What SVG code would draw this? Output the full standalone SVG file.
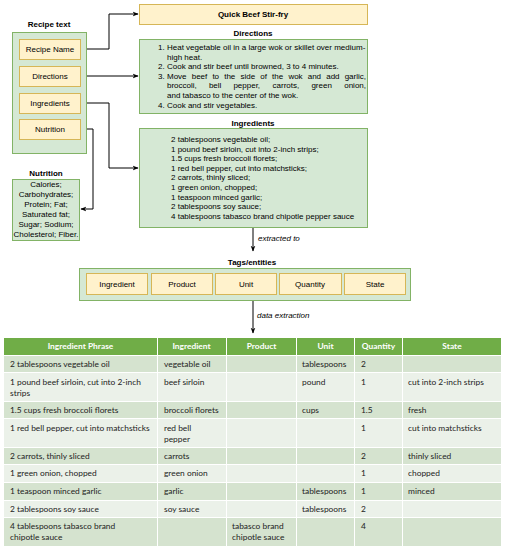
<svg xmlns="http://www.w3.org/2000/svg" width="505" height="550" viewBox="0 0 505 550">
<style>
.g{fill:#d5e8d4;stroke:#82b366;stroke-width:1}
.y{fill:#fff2cc;stroke:#d6b656;stroke-width:1}
.t{font-family:"Liberation Sans",Arial,sans-serif;font-size:8px;fill:#000}
.b{font-weight:bold}
.c{text-anchor:middle}
.e{text-anchor:end}
.i{font-style:italic}
.tb{font-family:Lato,"Liberation Sans",sans-serif;font-size:8.4px;fill:#222}
.th{font-family:Lato,"Liberation Sans",sans-serif;font-size:8.4px;fill:#fff;font-weight:bold;text-anchor:middle}
.h{fill:#70ad47}
.d{fill:#d5e3cf}
.l{fill:#ebf1e9}
.conn{fill:none;stroke:#000;stroke-width:1}
</style>
<defs>
<marker id="arr" viewBox="0 0 10 10" refX="9" refY="5" markerWidth="6" markerHeight="6" orient="auto" markerUnits="userSpaceOnUse">
<path d="M0,1 L10,5 L0,9 L3,5 Z" fill="#000"/>
</marker>
</defs>
<rect width="505" height="550" fill="#fff"/>

<g id="recipe-text">
<text class="t b c" x="49" y="27">Recipe text</text>
<rect class="g" x="12.5" y="32.5" width="74" height="121"/>
</g>
<g id="recipe-name">
<rect class="y" x="19.5" y="39.5" width="61" height="20"/>
<text class="t c" x="50" y="52">Recipe Name</text>
</g>
<g id="directions-tag">
<rect class="y" x="19.5" y="66.5" width="61" height="20"/>
<text class="t c" x="50" y="79">Directions</text>
</g>
<g id="ingredients-tag">
<rect class="y" x="19.5" y="93.5" width="61" height="20"/>
<text class="t c" x="50" y="106">Ingredients</text>
</g>
<g id="nutrition-tag">
<rect class="y" x="19.5" y="119.5" width="61" height="20"/>
<text class="t c" x="50" y="132">Nutrition</text>
</g>

<g id="nutrition">
<text class="t b c" x="46" y="176">Nutrition</text>
<rect class="g" x="12.5" y="179.5" width="67" height="61"/>
<text class="t c" x="46" y="187">Calories;</text>
<text class="t c" x="46" y="197">Carbohydrates;</text>
<text class="t c" x="46" y="207">Protein; Fat;</text>
<text class="t c" x="46" y="217">Saturated fat;</text>
<text class="t c" x="46" y="227">Sugar; Sodium;</text>
<text class="t c" x="46" y="237">Cholesterol; Fiber.</text>
</g>

<g id="title">
<rect class="y" x="139.5" y="4.5" width="228" height="20"/>
<text class="t b c" x="253" y="17">Quick Beef Stir-fry</text>
</g>

<g id="directions">
<text class="t b c" x="253" y="36">Directions</text>
<rect class="g" x="139.5" y="39.5" width="228" height="74"/>
<text class="t" y="50"><tspan x="158">1.</tspan><tspan x="167">Heat vegetable oil in a large wok or skillet over medium-</tspan></text>
<text class="t" x="167" y="59.6">high heat.</text>
<text class="t" y="69.2"><tspan x="158">2.</tspan><tspan x="167">Cook and stir beef until browned, 3 to 4 minutes.</tspan></text>
<text class="t" y="78.8"><tspan x="158">3.</tspan><tspan x="167">Move</tspan><tspan x="191.7">beef</tspan><tspan x="212.4">to</tspan><tspan x="224.2">the</tspan><tspan x="240.5">side</tspan><tspan x="260.3">of</tspan><tspan x="272.1">the</tspan><tspan x="288.4">wok</tspan><tspan x="307.7">and</tspan><tspan x="326.2">add</tspan></text>
<text class="t e" x="366" y="78.8">garlic,</text>
<text class="t" y="88.4"><tspan x="167">broccoli,</tspan><tspan x="208.9">bell</tspan><tspan x="233.4">pepper,</tspan><tspan x="272.6">carrots,</tspan><tspan x="311.4">green</tspan></text>
<text class="t e" x="366" y="88.4">onion,</text>
<text class="t" x="167" y="98">and tabasco to the center of the wok.</text>
<text class="t" y="107.6"><tspan x="158">4.</tspan><tspan x="167">Cook and stir vegetables.</tspan></text>
</g>

<g id="ingredients">
<text class="t b c" x="253" y="126">Ingredients</text>
<rect class="g" x="139.5" y="128.5" width="228" height="99"/>
<text class="t" x="171" y="142">2 tablespoons vegetable oil;</text>
<text class="t" x="171" y="151.6">1 pound beef sirloin, cut into 2-inch strips;</text>
<text class="t" x="171" y="161.2">1.5 cups fresh broccoli florets;</text>
<text class="t" x="171" y="170.8">1 red bell pepper, cut into matchsticks;</text>
<text class="t" x="171" y="180.4">2 carrots, thinly sliced;</text>
<text class="t" x="171" y="190">1 green onion, chopped;</text>
<text class="t" x="171" y="199.6">1 teaspoon minced garlic;</text>
<text class="t" x="171" y="209.2">2 tablespoons soy sauce;</text>
<text class="t" x="171" y="218.8">4 tablespoons tabasco brand chipotle pepper sauce</text>
</g>

<g id="tags">
<text class="t b c" x="252" y="265">Tags/entities</text>
<rect class="g" x="79.5" y="268.5" width="331" height="32"/>
</g>
<g id="tag-ingredient"><rect class="y" x="86.5" y="273.5" width="61" height="21"/><text class="t c" x="117" y="287">Ingredient</text></g>
<g id="tag-product"><rect class="y" x="151.5" y="273.5" width="61" height="21"/><text class="t c" x="182" y="287">Product</text></g>
<g id="tag-unit"><rect class="y" x="215.5" y="273.5" width="61" height="21"/><text class="t c" x="246" y="287">Unit</text></g>
<g id="tag-quantity"><rect class="y" x="279.5" y="273.5" width="62" height="21"/><text class="t c" x="310" y="287">Quantity</text></g>
<g id="tag-state"><rect class="y" x="344.5" y="273.5" width="61" height="21"/><text class="t c" x="375" y="287">State</text></g>

<g id="connectors">
<path class="conn" d="M87,49 H109 V14 H138" marker-end="url(#arr)"/>
<path class="conn" d="M87,76 H138" marker-end="url(#arr)"/>
<path class="conn" d="M87,103 H109 V168 H138" marker-end="url(#arr)"/>
<path class="conn" d="M87,129 H93 V209 H81" marker-end="url(#arr)"/>
<path class="conn" d="M253,228 V251" marker-end="url(#arr)"/>
<text class="t i" x="258" y="241">extracted to</text>
<path class="conn" d="M253,301 V333" marker-end="url(#arr)"/>
<text class="t i" x="257" y="318">data extraction</text>
</g>

<g id="table">
<rect class="h" x="4" y="338" width="497" height="17"/>
<rect class="d" x="4" y="356" width="497" height="16"/>
<rect class="l" x="4" y="373" width="497" height="28"/>
<rect class="d" x="4" y="402" width="497" height="16"/>
<rect class="l" x="4" y="419" width="497" height="28"/>
<rect class="d" x="4" y="448" width="497" height="16"/>
<rect class="l" x="4" y="465" width="497" height="17"/>
<rect class="d" x="4" y="483" width="497" height="17"/>
<rect class="l" x="4" y="501" width="497" height="16"/>
<rect class="d" x="4" y="518" width="497" height="28"/>
<g stroke="#fff" stroke-width="1">
<line x1="157.5" y1="338" x2="157.5" y2="546"/>
<line x1="226.5" y1="338" x2="226.5" y2="546"/>
<line x1="296.5" y1="338" x2="296.5" y2="546"/>
<line x1="354.5" y1="338" x2="354.5" y2="546"/>
<line x1="402.5" y1="338" x2="402.5" y2="546"/>
</g>
<text class="th" x="80.5" y="349">Ingredient Phrase</text>
<text class="th" x="191.5" y="349">Ingredient</text>
<text class="th" x="261.5" y="349">Product</text>
<text class="th" x="325.5" y="349">Unit</text>
<text class="th" x="378.5" y="349">Quantity</text>
<text class="th" x="452" y="349">State</text>

<text class="tb" x="10" y="367">2 tablespoons vegetable oil</text>
<text class="tb" x="164" y="367">vegetable oil</text>
<text class="tb" x="302" y="367">tablespoons</text>
<text class="tb" x="361" y="367">2</text>

<text class="tb" x="10" y="385">1 pound beef sirloin, cut into 2-inch</text>
<text class="tb" x="10" y="396">strips</text>
<text class="tb" x="164" y="385">beef sirloin</text>
<text class="tb" x="302" y="385">pound</text>
<text class="tb" x="361" y="385">1</text>
<text class="tb" x="408" y="385">cut into 2-inch strips</text>

<text class="tb" x="10" y="413">1.5 cups fresh broccoli florets</text>
<text class="tb" x="164" y="413">broccoli florets</text>
<text class="tb" x="302" y="413">cups</text>
<text class="tb" x="361" y="413">1.5</text>
<text class="tb" x="408" y="413">fresh</text>

<text class="tb" x="10" y="431">1 red bell pepper, cut into matchsticks</text>
<text class="tb" x="164" y="431">red bell</text>
<text class="tb" x="164" y="442">pepper</text>
<text class="tb" x="361" y="431">1</text>
<text class="tb" x="408" y="431">cut into matchsticks</text>

<text class="tb" x="10" y="459">2 carrots, thinly sliced</text>
<text class="tb" x="164" y="459">carrots</text>
<text class="tb" x="361" y="459">2</text>
<text class="tb" x="408" y="459">thinly sliced</text>

<text class="tb" x="10" y="476">1 green onion, chopped</text>
<text class="tb" x="164" y="476">green onion</text>
<text class="tb" x="361" y="476">1</text>
<text class="tb" x="408" y="476">chopped</text>

<text class="tb" x="10" y="494">1 teaspoon minced garlic</text>
<text class="tb" x="164" y="494">garlic</text>
<text class="tb" x="302" y="494">tablespoons</text>
<text class="tb" x="361" y="494">1</text>
<text class="tb" x="408" y="494">minced</text>

<text class="tb" x="10" y="512">2 tablespoons soy sauce</text>
<text class="tb" x="164" y="512">soy sauce</text>
<text class="tb" x="302" y="512">tablespoons</text>
<text class="tb" x="361" y="512">2</text>

<text class="tb" x="10" y="529">4 tablespoons tabasco brand</text>
<text class="tb" x="10" y="540">chipotle sauce</text>
<text class="tb" x="232" y="529">tabasco brand</text>
<text class="tb" x="232" y="540">chipotle sauce</text>
<text class="tb" x="361" y="529">4</text>
</g>
</svg>
